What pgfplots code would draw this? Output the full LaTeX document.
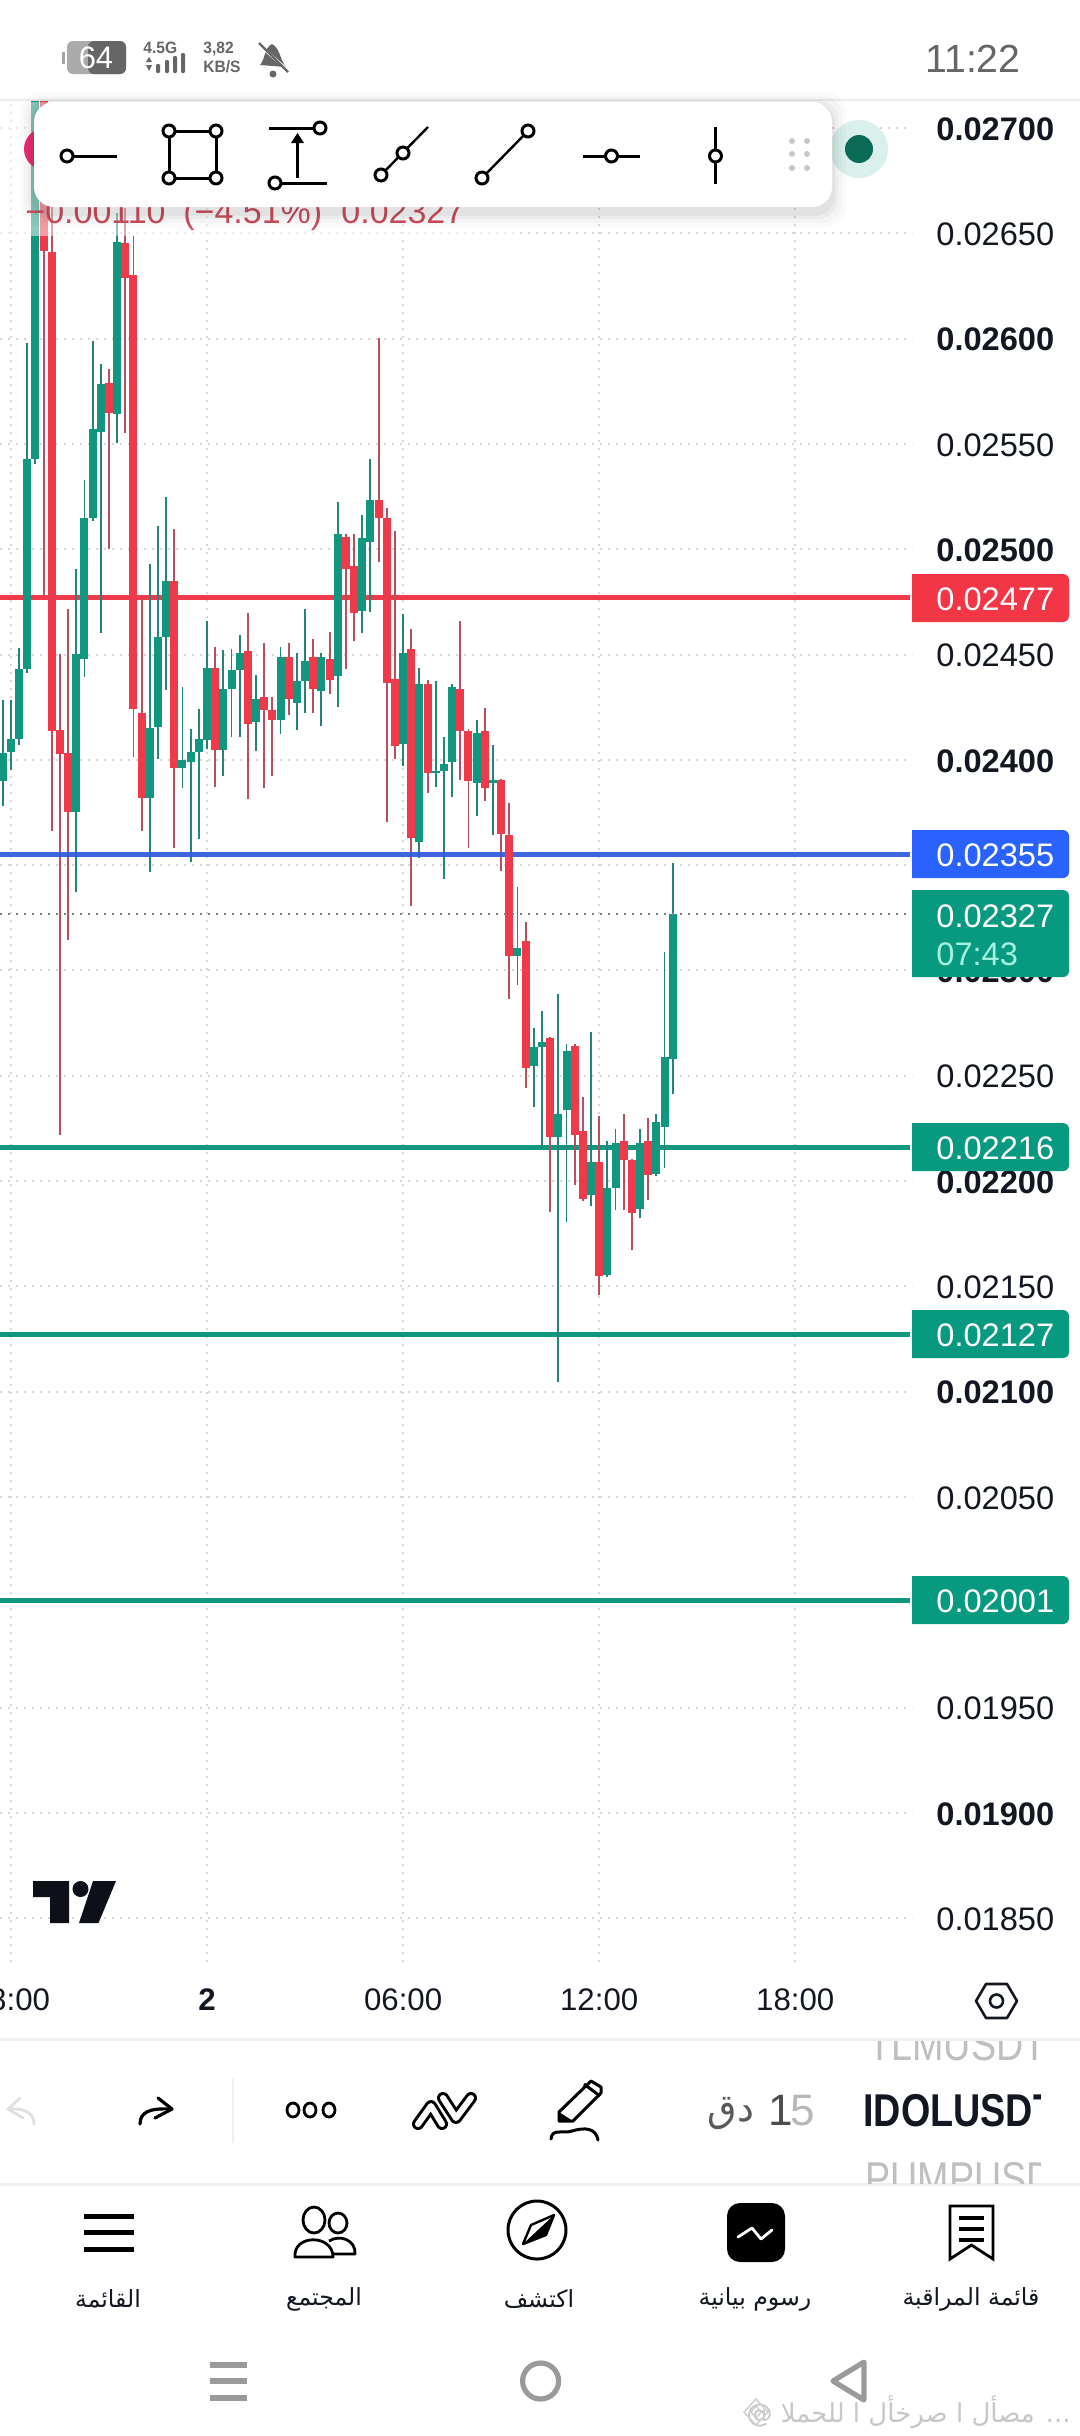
\documentclass[border=0pt]{standalone}
\usepackage{fontspec}
\setmainfont{Liberation Sans}
\newfontfamily\arabicfont[Script=Arabic]{DejaVu Sans}
\TeXXeTstate=1
\usepackage{pgfplots}
\usepackage{pgfplotstable}
\pgfplotsset{compat=1.18}
\definecolor{tvgreen}{HTML}{11967F}
\definecolor{tvred}{HTML}{EE3A4A}
\definecolor{tvblue}{HTML}{2E5BDD}
\definecolor{boxblue}{HTML}{2962FF}
\definecolor{boxred}{HTML}{F23645}
\definecolor{boxgreen}{HTML}{089981}
\definecolor{wickgreen}{HTML}{23857A}
\definecolor{wickred}{HTML}{B5505F}
\definecolor{ink}{HTML}{131722}
\definecolor{griddot}{HTML}{D6D6D6}
\definecolor{pinkdot}{HTML}{EC2E74}
\definecolor{legred}{HTML}{CC4E5F}
\definecolor{dotdark}{HTML}{0B6B57}
\definecolor{dothalo}{HTML}{DAF0EC}
\definecolor{aqua}{HTML}{A5F0DE}
\definecolor{stat}{HTML}{666666}
\definecolor{navg}{HTML}{9A9A9A}
\pgfplotstableread{
k bl bh l h
-25 0.023900 0.024031 0.023781 0.024285
-24 0.024038 0.024101 0.023951 0.024285
-23 0.024101 0.024430 0.024069 0.024530
-22 0.024433 0.025430 0.024414 0.025981
-21 0.025430 0.027200 0.025406 0.027250
-16 0.023750 0.024501 0.023374 0.024908
-15 0.024481 0.025150 0.024394 0.025330
-14 0.025150 0.025569 0.025135 0.025988
-13 0.025556 0.025783 0.024604 0.025881
-11 0.025640 0.026460 0.025506 0.026598
-7 0.023821 0.024150 0.023465 0.024932
-6 0.024158 0.024581 0.024006 0.025108
-5 0.024581 0.024850 0.024332 0.025250
-3 0.023959 0.024000 0.023864 0.024348
-2 0.023990 0.024038 0.023515 0.024148
-1 0.024038 0.024098 0.023626 0.024240
0 0.024093 0.024438 0.024050 0.024660
2 0.024047 0.024338 0.023924 0.024520
3 0.024338 0.024427 0.024106 0.024528
4 0.024427 0.024509 0.024106 0.024592
6 0.024180 0.024291 0.024042 0.024402
9 0.024190 0.024490 0.024122 0.024536
11 0.024272 0.024372 0.024142 0.024509
12 0.024372 0.024470 0.024224 0.024718
14 0.024327 0.024490 0.024161 0.024509
16 0.024399 0.025071 0.024250 0.025222
19 0.024707 0.025051 0.024601 0.025161
20 0.025032 0.025233 0.024702 0.025430
24 0.024077 0.024508 0.023970 0.024690
26 0.023610 0.024361 0.023534 0.024437
28 0.023938 0.023946 0.023870 0.024373
29 0.023946 0.023982 0.023435 0.024109
30 0.023989 0.024346 0.023822 0.024361
33 0.023890 0.024128 0.023732 0.024188
35 0.023890 0.023902 0.023642 0.024068
38 0.023068 0.023108 0.022930 0.023397
40 0.022544 0.022638 0.022351 0.022726
41 0.022635 0.022660 0.022161 0.022807
43 0.022209 0.022318 0.021046 0.022889
44 0.022336 0.022619 0.021804 0.022650
47 0.021935 0.022090 0.021880 0.022707
49 0.021555 0.021965 0.021542 0.022191
50 0.021965 0.022180 0.021861 0.022247
53 0.021867 0.022180 0.021823 0.022247
55 0.022035 0.022280 0.022022 0.022318
56 0.022256 0.022589 0.022060 0.023089
57 0.022581 0.023270 0.022413 0.023511
}\greencandles
\pgfplotstableread{
k bl bh l h
-20 0.026416 0.027200 0.024778 0.027250
-19 0.024137 0.026411 0.023663 0.026650
-18 0.024027 0.024141 0.022220 0.024501
-17 0.023750 0.024031 0.023146 0.024718
-12 0.025648 0.025791 0.025003 0.025857
-10 0.026289 0.026452 0.025553 0.026620
-9 0.024240 0.026300 0.024014 0.026487
-8 0.023821 0.024220 0.023663 0.024763
-4 0.023959 0.024850 0.023583 0.025098
1 0.024047 0.024438 0.023873 0.024536
5 0.024169 0.024519 0.023816 0.024699
7 0.024237 0.024300 0.023864 0.024554
8 0.024190 0.024237 0.023924 0.024300
10 0.024291 0.024490 0.024212 0.024554
13 0.024338 0.024490 0.024224 0.024573
15 0.024379 0.024481 0.024311 0.024607
17 0.024908 0.025060 0.024430 0.025070
18 0.024699 0.024918 0.024565 0.025071
21 0.025150 0.025233 0.024937 0.026005
22 0.024364 0.025150 0.023707 0.025198
23 0.024066 0.024383 0.024006 0.025087
25 0.023629 0.024527 0.023308 0.024619
27 0.023938 0.024361 0.023843 0.024381
31 0.024136 0.024337 0.023903 0.024661
32 0.023898 0.024139 0.023582 0.024147
34 0.023865 0.024139 0.023803 0.024247
36 0.023648 0.023902 0.023471 0.023911
37 0.023068 0.023641 0.022865 0.023793
39 0.022538 0.023141 0.022441 0.023231
42 0.022209 0.022679 0.021851 0.022685
45 0.022217 0.022639 0.021979 0.022650
46 0.021916 0.022239 0.021903 0.022399
48 0.021547 0.022090 0.021460 0.022307
51 0.022098 0.022190 0.021861 0.022318
52 0.021848 0.022100 0.021671 0.022105
54 0.022027 0.022190 0.021911 0.022299
}\redcandles
\newcommand{\pricebox}[3]{%
  \fill[#2] (912,#1-24) [rounded corners=3pt] -- (1069,#1-24) -- (1069,#1+24) [sharp corners] -- (912,#1+24) -- cycle;
  \node[anchor=base west,inner sep=0pt,text=white,font=\fontsize{16.3}{19}\selectfont] at (936,#1+12) {#3};
}
\newcommand{\tab}[2]{\node[text=ink,font=\arabicfont\fontsize{11.8}{14}\selectfont,inner sep=0pt] at (#1,2299) {#2};}
\newcommand{\hnd}[2]{\draw[black,line width=1.5pt,fill=white] (#1,#2) circle (6);}
\begin{document}
\begin{tikzpicture}[x=0.5pt,y=-0.5pt]
\path[use as bounding box] (0,0) rectangle (1080,2436);
\fill[white] (0,0) rectangle (1080,2436);
\begin{axis}[
  at={(0pt,-981pt)},anchor=south west,
  scale only axis,width=456pt,height=931pt,
  xmin=-25.337,xmax=86.29,ymin=0.0182915,ymax=0.027133,
  axis line style={draw=none},
  tick style={draw=none},
  major tick length=0pt,
  scaled y ticks=false,scaled x ticks=false,
  grid=major,
  grid style={griddot,line width=1pt,dash pattern=on 1pt off 3pt},
  xtick={-24,0,24,48,72},
  xticklabels={18:00,\textbf{2},06:00,12:00,18:00},
  xticklabel style={anchor=center,inner sep=0pt,yshift=-19pt,text=ink,font=\fontsize{15.6}{18}\selectfont},
  ytick={0.0185,0.019,0.0195,0.02,0.0205,0.021,0.0215,0.022,0.0225,0.023,0.0235,0.024,0.0245,0.025,0.0255,0.026,0.0265,0.027},
  yticklabels={0.01850,\textbf{0.01900},0.01950,{},0.02050,\textbf{0.02100},0.02150,\textbf{0.02200},0.02250,\textbf{0.02300},{},\textbf{0.02400},0.02450,\textbf{0.02500},0.02550,\textbf{0.02600},0.02650,\textbf{0.02700}},
  yticklabel pos=right,
  yticklabel style={anchor=west,inner sep=0pt,xshift=12pt,yshift=-0.5pt,text=ink,font=\fontsize{16.3}{19}\selectfont},
]
\addplot[tvred,line width=2.4pt,forget plot] coordinates {(-25.337,0.02477)(86.05,0.02477)};
\addplot[tvgreen,line width=2.4pt,forget plot] coordinates {(-25.337,0.02216)(86.05,0.02216)};
\addplot[tvgreen,line width=2.4pt,forget plot] coordinates {(-25.337,0.02127)(86.05,0.02127)};
\addplot[tvgreen,line width=2.4pt,forget plot] coordinates {(-25.337,0.02001)(86.05,0.02001)};
\addplot[draw=none,mark=none,forget plot,error bars/.cd,y dir=plus,y explicit,error mark=none,
  error bar style={draw=wickgreen,line width=0.95pt}]
  table[x=k,y=l,y error plus expr=\thisrow{h}-\thisrow{l}] {\greencandles};
\addplot[draw=none,mark=none,forget plot,error bars/.cd,y dir=plus,y explicit,error mark=none,
  error bar style={draw=wickred,line width=0.95pt}]
  table[x=k,y=l,y error plus expr=\thisrow{h}-\thisrow{l}] {\redcandles};
\addplot[tvblue,line width=2.4pt,opacity=0.92,forget plot] coordinates {(-25.337,0.02355)(86.05,0.02355)};
\addplot[draw=none,mark=none,forget plot,error bars/.cd,y dir=plus,y explicit,error mark=none,
  error bar style={draw=tvgreen,line width=4pt}]
  table[x=k,y=bl,y error plus expr=\thisrow{bh}-\thisrow{bl}] {\greencandles};
\addplot[draw=none,mark=none,forget plot,error bars/.cd,y dir=plus,y explicit,error mark=none,
  error bar style={draw=tvred,line width=4pt}]
  table[x=k,y=bl,y error plus expr=\thisrow{bh}-\thisrow{bl}] {\redcandles};
\addplot[ink!55!white,line width=1pt,dash pattern=on 1pt off 3pt,forget plot] coordinates {(-25.337,0.02327)(86.05,0.02327)};
\end{axis}
% top band
\fill[white] (0,0) rectangle (1080,99);
\draw[black!7,line width=1.2pt] (0,100) -- (1080,100);
% pale legend strip and legend text
\fill[white,opacity=0.5] (0,102) rectangle (520,236);
\fill[pinkdot] (45,149) circle (21);
\begin{scope}[font=\fontsize{17}{20}\selectfont,text=legred]
\node[anchor=base west,inner sep=0pt] at (25,223) {−0.00110};
\node[anchor=base west,inner sep=0pt] at (183,223) {(−4.51\%)};
\node[anchor=base west,inner sep=0pt] at (341,223) {0.02327};
\end{scope}
% green dot
\fill[dothalo] (859,149) circle (29);
\fill[dotdark] (859,149) circle (14);
% toolbar with shadow
\foreach \g/\o in {14/0.02,10/0.025,6/0.03,3/0.04}{
  \fill[black,opacity=\o,rounded corners=10pt] (34-\g,102+4-\g) rectangle (832+\g,207+6+\g);
}
\fill[white,rounded corners=10pt] (34,102) rectangle (832,207);
\begin{scope}[black,line width=1.5pt]
\draw (73,156) -- (117,156); \hnd{67}{156}
\draw (169,131) rectangle (216,178); \hnd{169}{131}\hnd{216}{131}\hnd{169}{178}\hnd{216}{178}
\draw (269,128) -- (317,128); \hnd{320}{128}
\draw (282,183) -- (327,183); \hnd{275}{183}
\draw[line width=1.2pt] (297.5,178) -- (297.5,140);
\fill (297.5,133) -- (291,143) -- (304,143) -- cycle;
\draw[line width=1.2pt] (381,175) -- (428,127); \hnd{381}{175}\hnd{403}{153}
\draw[line width=1.2pt] (482,178) -- (528,131); \hnd{482}{178}\hnd{528}{131}
\draw (583,156) -- (640,156); \hnd{611.5}{156}
\draw[line width=1.2pt] (715.5,127) -- (715.5,184); \hnd{715.5}{156}
\end{scope}
\foreach \xx in {792,807}{\foreach \yy in {141,154,168}{\fill[black!22] (\xx,\yy) circle (3);}}
% price boxes
\pricebox{598}{boxred}{0.02477}
\pricebox{854}{boxblue}{0.02355}
\fill[boxgreen] (912,890) [rounded corners=3pt] -- (1069,890) -- (1069,977) [sharp corners] -- (912,977) -- cycle;
\node[anchor=base west,inner sep=0pt,text=white,font=\fontsize{16.3}{19}\selectfont] at (936,927) {0.02327};
\node[anchor=base west,inner sep=0pt,text=aqua,font=\fontsize{16.3}{19}\selectfont] at (936,965) {07:43};
\pricebox{1147}{boxgreen}{0.02216}
\pricebox{1334}{boxgreen}{0.02127}
\pricebox{1600}{boxgreen}{0.02001}
% TradingView logo
\fill[ink!70!black] (33,1881) -- (69,1881) -- (69,1923) -- (50,1923) -- (50,1897) -- (33,1897) -- cycle;
\fill[ink!70!black] (80.5,1889) circle (8);
\fill[ink!70!black] (93,1881) -- (116,1881) -- (98.5,1923) -- (79,1923) -- cycle;
% hexagon settings icon
\draw[ink,line width=1.3pt,line join=round] (976,2001) -- (986,1984) -- (1007,1984) -- (1017,2001) -- (1007,2018) -- (986,2018) -- cycle;
\draw[ink,line width=1.3pt] (996.5,2001) circle (6.5);
% status bar
\fill[black!35] (62,52) rectangle (65,64);
\fill[stat!55,rounded corners=3pt] (67,41) rectangle (126,74);
\fill[stat,rounded corners=3pt] (88,41) rectangle (126,74);
\node[text=white,font=\fontsize{15.5}{18}\selectfont,inner sep=0pt] at (96,58) {64};
\begin{scope}[text=stat,font=\bfseries\fontsize{8.2}{9}\selectfont]
\node[anchor=base west,inner sep=0pt,xscale=.95] at (143,54) {4.5G};
\node[anchor=base west,inner sep=0pt,xscale=.95] at (203,54) {3,82};
\node[anchor=base west,inner sep=0pt,xscale=.95] at (203,72) {KB/S};
\end{scope}
\fill[stat] (146,62) -- (149,57) -- (152,62) -- cycle;
\fill[stat] (146,65) -- (149,71) -- (152,65) -- cycle;
\fill[stat,rounded corners=.6pt] (156,64) rectangle (160,73);
\fill[stat,rounded corners=.6pt] (165,60) rectangle (169,73);
\fill[stat,rounded corners=.6pt] (173,56) rectangle (177,73);
\fill[stat,rounded corners=.6pt] (181,53) rectangle (185,73);
\fill[stat] (260,65) .. controls (265,60) and (264,48) .. (272,44) .. controls (280,48) and (280,60) .. (286,67) -- cycle;
\fill[stat] (273,74) circle (3.5);
\draw[white,line width=1.4pt] (256,42) -- (292,74);
\draw[stat,line width=1.2pt] (259,43) -- (288,72);
\node[anchor=base west,inner sep=0pt,text=stat,font=\fontsize{19.6}{22}\selectfont] at (925,72) {11:22};
% separators
\draw[black!6,line width=1.5pt] (0,2039) -- (1080,2039);
\draw[black!6,line width=1.5pt] (0,2184) -- (1080,2184);
\draw[black!6,line width=.7pt] (233,2078) -- (233,2143);
% symbol ticker
\begin{scope}
\clip (840,2041) rectangle (1040,2183);
\node[anchor=base west,inner sep=0pt,text=black!25,font=\fontsize{23}{26}\selectfont,xscale=.82] at (868,2060) {TLMUSDT};
\node[anchor=base west,inner sep=0pt,text=ink,font=\bfseries\fontsize{23}{26}\selectfont,xscale=.82] at (863,2126) {IDOLUSDT};
\node[anchor=base west,inner sep=0pt,text=black!25,font=\fontsize{23}{26}\selectfont,xscale=.82] at (865,2194) {PUMPUSDT};
\end{scope}
\node[anchor=base west,inner sep=0pt,text=black!70,font=\fontsize{22}{26}\selectfont] at (768,2125) {1};
\node[anchor=base west,inner sep=0pt,text=black!28,font=\fontsize{22}{26}\selectfont] at (790,2125) {5};
\node[anchor=center,inner sep=0pt,text=black!65,font=\arabicfont\fontsize{19}{22}\selectfont] at (731,2114) {\beginR دق\endR};
% undo redo
\draw[black!12,line width=1.4pt,line cap=round,line join=round] (34,2124) .. controls (34,2112) and (24,2108) .. (8,2109);
\draw[black!12,line width=1.4pt,line cap=round,line join=round] (20,2098) -- (8,2109) -- (23,2118);
\draw[black,line width=1.6pt,line cap=round] (140,2124) .. controls (140,2112) and (150,2108) .. (170,2109);
\draw[black,line width=1.6pt,line cap=round,line join=round] (158,2098) -- (172,2109) -- (155,2118);
% dots
\foreach \xx in {293,310,329}{\draw[black,line width=1.4pt] (\xx,2110) ellipse (6 and 7);}
% zigzag
\draw[black,line width=6pt,line join=round,line cap=round] (418,2124) -- (431,2106) -- (442,2124);
\draw[white,line width=3pt,line join=round,line cap=round] (418,2124) -- (431,2106) -- (442,2124);
\draw[black,line width=6pt,line join=round,line cap=round] (443,2098) -- (456,2118) -- (471,2098);
\draw[white,line width=3pt,line join=round,line cap=round] (443,2098) -- (456,2118) -- (471,2098);
% pencil
\draw[black,line width=1.5pt,line join=round] (591,2081) -- (601,2087) -- (601,2093) -- (573,2121) -- (559,2121) -- (559,2112) -- cycle;
\draw[black,line width=1.5pt] (584,2084) -- (600,2096);
\fill[black] (559,2112) -- (573,2121) -- (559,2121) -- cycle;
\draw[black,line width=1.5pt,line cap=round] (551,2139) .. controls (552,2128) and (562,2134) .. (572,2131) .. controls (585,2127) and (596,2128) .. (598,2140);
% tab bar
\fill[black] (84,2213.5) rectangle (134,2218.5);
\fill[black] (84,2229.5) rectangle (134,2234.5);
\fill[black] (84,2246.5) rectangle (134,2251.5);
\draw[black,line width=1.4pt] (314,2220) ellipse (11 and 13);
\draw[black,line width=1.4pt] (338,2223) ellipse (9 and 10);
\draw[black,line width=1.4pt,line join=round] (295,2257) .. controls (293,2234) and (333,2234) .. (333,2257) -- cycle;
\draw[black,line width=1.4pt,line join=round] (333,2254) -- (355,2254) .. controls (356,2240) and (340,2234) .. (329,2241);
\draw[black,line width=1.5pt] (537,2230) circle (29);
\draw[black,line width=1.2pt,line join=round] (554,2215) -- (531,2225) -- (523,2244) -- (546,2235) -- cycle;
\fill[black] (554,2215) -- (546,2235) -- (523,2244) -- cycle;
\fill[black,rounded corners=6.5pt] (727,2203) rectangle (785,2262);
\draw[white,line width=1.4pt,line join=round,line cap=round] (738,2237) -- (752,2228) -- (761,2239) -- (772,2230);
\draw[black,line width=1.4pt,line join=miter] (950,2206) -- (993,2206) -- (993,2259) -- (971.5,2245) -- (950,2259) -- cycle;
\fill[black] (959,2216) rectangle (984,2220);
\fill[black] (959,2227) rectangle (984,2231);
\fill[black] (959,2238) rectangle (984,2242);
\tab{971}{\beginR قائمة المراقبة\endR}
\tab{755}{\beginR رسوم بيانية\endR}
\tab{539}{\beginR اكتشف\endR}
\tab{324}{\beginR المجتمع\endR}
\tab{108}{\beginR القائمة\endR}
% nav bar
\fill[navg] (210,2362) rectangle (247,2368);
\fill[navg] (210,2378) rectangle (247,2384);
\fill[navg] (210,2395) rectangle (247,2401);
\draw[navg,line width=2.6pt] (540.6,2381) circle (18);
\draw[navg,line width=2.6pt,line join=round] (864,2362) -- (833,2381) -- (864,2400) -- cycle;
% watermark
\node[anchor=east,inner sep=0pt,text=black!22,font=\arabicfont\fontsize{13}{15}\selectfont] at (1071,2412) {\beginR ... مصأل ا صرخأل ا للحملا @\endR};
\draw[black!18,line width=.8pt] (756,2399) -- (768,2412) -- (756,2425) -- (744,2412) -- cycle;
\draw[black!18,line width=.8pt] (756,2406) -- (761,2412) -- (756,2418) -- (751,2412) -- cycle;
\end{tikzpicture}
\end{document}
